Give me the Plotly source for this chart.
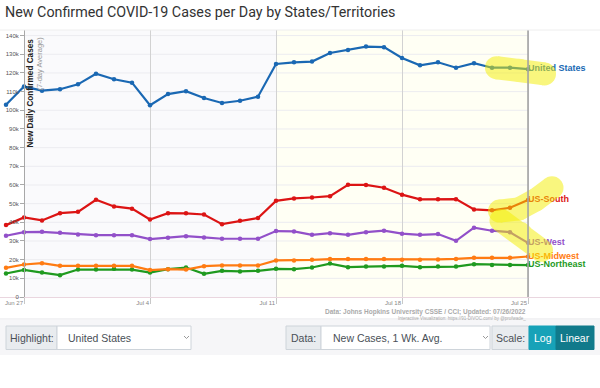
import plotly.graph_objects as go
import pandas as pd

# ---------------- data (thousands of cases, 7-day avg) ----------------
dates = pd.date_range("2022-06-26", periods=30).strftime("%Y-%m-%d").tolist()
us = [103.0, 112.7, 110.5, 111.3, 113.9, 119.6, 116.6, 114.8, 102.7, 108.7,
      110.2, 106.6, 103.9, 105.1, 107.3, 124.8, 125.7, 126.1, 130.7, 132.3,
      134.1, 133.8, 128.0, 124.1, 125.7, 122.8, 125.2, 122.8, 122.8, 122.0]
south = [38.5, 42.6, 41.0, 44.9, 45.6, 52.1, 48.5, 47.3, 41.5, 44.9,
         44.8, 44.2, 39.0, 40.8, 42.3, 51.5, 52.8, 53.3, 54.0, 60.1,
         60.0, 58.5, 54.8, 52.3, 52.4, 52.4, 46.9, 46.4, 47.8, 51.9]
west = [32.8, 34.7, 34.9, 34.4, 33.5, 33.1, 33.1, 33.1, 31.0, 31.7,
        32.6, 31.9, 31.2, 31.2, 31.2, 35.3, 35.1, 33.3, 34.2, 33.3,
        34.7, 35.5, 33.9, 33.3, 33.7, 30.1, 37.1, 35.5, 34.7, 29.0]
midwest = [15.6, 17.4, 18.1, 16.7, 16.7, 16.7, 16.7, 16.7, 14.4, 14.9,
           14.7, 16.5, 16.9, 16.9, 16.9, 19.6, 19.6, 19.9, 20.3, 20.3,
           20.3, 20.3, 19.9, 19.9, 20.1, 20.4, 21.0, 21.0, 21.0, 21.7]
northeast = [12.6, 14.5, 13.1, 11.7, 14.7, 14.7, 15.1, 14.7, 13.1, 14.9,
             15.8, 12.4, 14.0, 13.7, 14.0, 15.1, 14.9, 15.8, 17.9, 16.0,
             16.3, 16.3, 16.7, 16.0, 16.3, 16.3, 17.6, 17.2, 17.2, 17.1]

series_names = ["US-Northeast", "US-Midwest", "US-West", "US-South", "United States"]
series_values = [northeast, midwest, west, south, us]
series_colors = ["#1f9a1f", "#ff7b12", "#9250c9", "#dc1414", "#1a68b3"]

ytick_vals = [0, 10, 20, 30, 40, 50, 60, 70, 80, 90, 100, 110, 120, 130, 140]
ytick_text = ["0", "10k", "20k", "30k", "40k", "50k", "60k", "70k", "80k",
              "90k", "100k", "110k", "120k", "130k", "140k"]
xtick_vals = ["2022-06-27", "2022-07-04", "2022-07-11", "2022-07-18", "2022-07-25"]
xtick_text = ["Jun 27", "Jul 4", "Jul 11", "Jul 18", "Jul 25"]

# highlighter strokes (annotation decoration), centre-line points
hl_us_x = ["2022-07-23 06:00", "2022-07-24 12:00", "2022-07-25 22:00"]
hl_us_y = [122.8, 121.5, 119.5]
hl_south_x = ["2022-07-23 10:00", "2022-07-24 12:00", "2022-07-25 10:00", "2022-07-26 08:00"]
hl_south_y = [46.0, 47.2, 52.0, 58.5]
hl_west_x = ["2022-07-23 12:00", "2022-07-24 14:00", "2022-07-25 18:00"]
hl_west_y = [41.0, 34.0, 25.0]

# ---------------- geometry ----------------
W, H = 600, 388
T, B = 30, 297          # plot top / bottom in px
X0, PXD = 6.0, 18.0     # px of first date, px per day
YMAX = 143
t0 = pd.Timestamp(dates[0])


def xd(px):
    return (t0 + pd.Timedelta(days=(px - X0) / PXD)).strftime("%Y-%m-%d %H:%M:%S")


def xp(px):
    return px / W


def yp(py):
    return (B - py) / (B - T)


fig = go.Figure()

for name, vals, col in zip(series_names, series_values, series_colors):
    fig.add_trace(go.Scatter(
        x=dates, y=vals, mode="lines+markers", name=name,
        line=dict(color=col, width=2.2), marker=dict(color=col, size=4.5),
        hoverinfo="skip", showlegend=False))

for name, vals, col in zip(series_names, series_values, series_colors):
    fig.add_trace(go.Scatter(
        x=[dates[-1]], y=[vals[-1]], mode="text", text=[name],
        textposition="middle right", cliponaxis=False,
        textfont=dict(color=col, size=9, family="Liberation Sans", weight="bold"),
        hoverinfo="skip", showlegend=False))

for hx, hy in [(hl_us_x, hl_us_y), (hl_south_x, hl_south_y), (hl_west_x, hl_west_y)]:
    fig.add_trace(go.Scatter(
        x=hx, y=hy, mode="lines+markers", opacity=0.5,
        line=dict(color="#f4ef00", width=23),
        marker=dict(color="#f4ef00", size=23),
        hoverinfo="skip", showlegend=False))

shapes = []
# plot backgrounds
shapes.append(dict(type="rect", xref="x", yref="y", x0=xtick_vals[0], x1=xtick_vals[2],
                   y0=0, y1=YMAX, fillcolor="#fafafc", line=dict(width=0), layer="below"))
shapes.append(dict(type="rect", xref="x", yref="y", x0=xtick_vals[2], x1=xtick_vals[4],
                   y0=0, y1=YMAX, fillcolor="#fffff4", line=dict(width=0), layer="below"))
# horizontal grid
for v in ytick_vals[1:]:
    shapes.append(dict(type="line", xref="x", yref="y", x0=xtick_vals[0], x1=xtick_vals[4],
                       y0=v, y1=v, line=dict(color="#ececf0", width=1), layer="below"))
# right frame line
shapes.append(dict(type="line", xref="x", yref="y", x0=xtick_vals[4], x1=xtick_vals[4],
                   y0=0, y1=YMAX, line=dict(color="#a5a5a5", width=1.6)))
# top frame line
shapes.append(dict(type="line", xref="paper", yref="paper", x0=0, x1=1, y0=1, y1=1,
                   line=dict(color="#eeeeee", width=1)))

# controls bar
shapes.append(dict(type="line", xref="paper", yref="paper", x0=0, x1=1,
                   y0=yp(319), y1=yp(319), line=dict(color="#e4e4e8", width=1)))
shapes.append(dict(type="rect", xref="paper", yref="paper", x0=0, x1=1,
                   y0=yp(355), y1=yp(319.5), fillcolor="#f6f6f8", line=dict(width=0)))


def box(x0, x1, fill, line="#ced4da"):
    shapes.append(dict(type="rect", xref="paper", yref="paper", x0=xp(x0), x1=xp(x1),
                       y0=yp(349.5), y1=yp(326), fillcolor=fill,
                       line=dict(color=line, width=1)))


def chevron(cx):
    shapes.append(dict(type="path", xref="paper", yref="paper",
                       path=f"M {xp(cx-2.5)} {yp(336)} L {xp(cx)} {yp(338.5)} L {xp(cx+2.5)} {yp(336)}",
                       line=dict(color="#9a9a9a", width=1)))


box(6, 57, "#e9ecef")
box(57, 191, "#ffffff")
box(286, 321, "#e9ecef")
box(321, 490, "#ffffff")
box(492, 529, "#e9ecef")
box(529, 556, "#17a2b8", "#17a2b8")
box(556, 594, "#117a8b", "#117a8b")
chevron(186.5)
chevron(485.5)

annotations = []
annotations.append(dict(text="New Confirmed COVID-19 Cases per Day by States/Territories",
                        xref="paper", yref="paper", x=xp(3), y=yp(12), xanchor="left",
                        yanchor="middle", showarrow=False,
                        font=dict(family="Roboto", size=14.3, color="#333333")))
annotations.append(dict(text="<b>New Daily Confirmed Cases</b>", textangle=-90,
                        xref="paper", yref="paper", x=xp(30), y=yp(37), xanchor="center",
                        yanchor="top", showarrow=False,
                        font=dict(family="Liberation Sans", size=8.2, color="#222222")))
annotations.append(dict(text="(7-day Average)", textangle=-90,
                        xref="paper", yref="paper", x=xp(38.5), y=yp(35), xanchor="center",
                        yanchor="top", showarrow=False,
                        font=dict(family="Liberation Sans", size=7.5, color="#999999")))
annotations.append(dict(text="<b>Data: Johns Hopkins University CSSE / CCI; Updated: 07/26/2022</b>",
                        xref="paper", yref="paper", x=xp(528), y=yp(312), xanchor="right",
                        yanchor="middle", showarrow=False,
                        font=dict(family="Liberation Sans", size=6.5, color="#aaaaaa")))
annotations.append(dict(text="Interactive Visualization: https://91-DIVOC.com/ by @profwade_",
                        xref="paper", yref="paper", x=xp(528), y=yp(318.5), xanchor="right",
                        yanchor="middle", showarrow=False,
                        font=dict(family="Liberation Sans", size=4.5, color="#aaaaaa")))

ctrl_font = dict(family="Liberation Sans", size=10.5, color="#495057")
for txt, cx, anchor, col in [("Highlight:", 31.5, "center", "#495057"),
                             ("United States", 66, "left", "#495057"),
                             ("Data:", 303.5, "center", "#495057"),
                             ("New Cases, 1 Wk. Avg.", 331, "left", "#495057"),
                             ("Scale:", 510.5, "center", "#495057"),
                             ("Log", 542.5, "center", "#ffffff"),
                             ("Linear", 575, "center", "#ffffff")]:
    annotations.append(dict(text=txt, xref="paper", yref="paper", x=xp(cx), y=yp(338),
                            xanchor=anchor, yanchor="middle", showarrow=False,
                            font=dict(ctrl_font, color=col)))

fig.update_layout(
    width=W, height=H,
    margin=dict(l=0, r=0, t=T, b=H - B, pad=0),
    paper_bgcolor="#ffffff", plot_bgcolor="#ffffff",
    shapes=shapes, annotations=annotations,
    font=dict(family="Liberation Sans"),
    xaxis=dict(type="date", range=[xd(0), xd(600)], tickvals=xtick_vals, ticktext=xtick_text,
               ticklabelposition="outside left", ticks="outside", ticklen=6,
               tickcolor="#c8c8c8", tickfont=dict(size=6, color="#888888"),
               showgrid=True, gridcolor="#d2d2d2", gridwidth=1,
               showline=True, linecolor="#ead6df", linewidth=1, zeroline=False,
               fixedrange=True),
    yaxis=dict(range=[0, YMAX], tickvals=ytick_vals, ticktext=ytick_text,
               anchor="free", position=xp(X0 + PXD), side="left",
               ticks="outside", ticklen=4, tickcolor="#aaaaaa",
               tickfont=dict(size=6, color="#555555"),
               showgrid=False, zeroline=False, showline=True, linecolor="#a8a8a8",
               linewidth=1, fixedrange=True),
)

fig.write_html("out.html", config={"displayModeBar": False},
               post_script="document.body.style.margin='0';")
